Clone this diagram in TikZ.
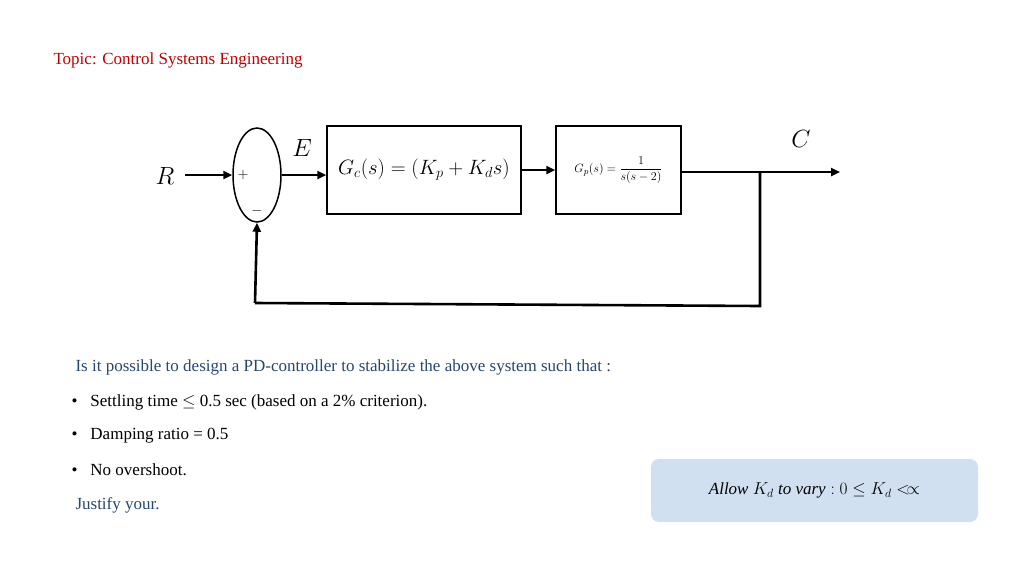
\documentclass[tikz,border=0pt]{standalone}
\usepackage{amsmath,amssymb}
\usepackage{fontspec}
\setmainfont{Liberation Serif}
\usetikzlibrary{arrows.meta,shapes.geometric}
\definecolor{topicred}{RGB}{192,0,0}
\definecolor{qblue}{RGB}{40,70,110}
\definecolor{boxblue}{RGB}{209,224,240}
\begin{document}
\begin{tikzpicture}[x=1pt,y=-1pt,
  sig/.style={line width=2.6pt,-{Triangle[length=9pt,width=8pt]}},
  wire/.style={line width=2.6pt},
  blk/.style={draw,line width=1.5pt,inner sep=0pt},
  body/.style={anchor=west,font=\fontsize{17}{20}\selectfont}]
\useasboundingbox (0,0) rectangle (1024,576);
\node[anchor=west,text=topicred,font=\fontsize{17}{20}\selectfont] (title) at (50,60) {Topic: Control Systems Engineering};
% block diagram
\node[draw,ellipse,line width=1.5pt,minimum width=48pt,minimum height=94pt,inner sep=0pt] (sum) at (257,175) {};
\node[font=\fontsize{14}{14}\selectfont] (plus) at (243,175) {$+$};
\node[font=\fontsize{14}{14}\selectfont] (minus) at (257,211) {$-$};
\node[font=\fontsize{26}{26}\selectfont] (R) at (165,176) {$R$};
\node[font=\fontsize{26}{26}\selectfont] (E) at (302,148) {$E$};
\node[font=\fontsize{26}{26}\selectfont] (C) at (801,139) {$C$};
\node[blk,minimum width=194pt,minimum height=88pt,font=\fontsize{20}{20}\selectfont] (gc) at (424,170) {$G_c(s)=(K_p+K_d s)$};
\node[blk,minimum width=125pt,minimum height=88pt,font=\fontsize{13}{13}\selectfont] (gp) at (618.5,170) {$G_p(s)=\dfrac{1}{s(s-2)}$};
\coordinate (out) at (840,172);
\coordinate (br) at (760,172);
\coordinate (rb) at (760,306);
\coordinate (lb) at (255,303);
\draw[sig] (185,175) -- (sum.west);
\draw[sig] (sum.east) -- (gc.west |- sum.east);
\draw[sig] (gc.east |- 0,170) -- (gp.west |- 0,170);
\draw[sig] (gp.east |- out) -- (out);
\draw[wire] (br) -- (rb) -- (lb);
\draw[sig] (lb) -- (sum.south);
% text
\node[body,text=qblue] (q) at (72,367) {Is it possible to design a PD-controller to stabilize the above system such that :};
\node[body] (b1) at (68,402) {•\hspace{13pt}Settling time $\leq$ 0.5 sec (based on a 2\% criterion).};
\node[body] (b2) at (68,436) {•\hspace{13pt}Damping ratio = 0.5};
\node[body] (b3) at (68,470) {•\hspace{13pt}No overshoot.};
\node[body,text=qblue] (j) at (72,505) {Justify your.};
\node[fill=boxblue,rounded corners=8pt,minimum width=327pt,minimum height=63pt,font=\fontsize{17}{20}\selectfont] (note) at (814.5,490.5) {$\mathit{Allow}\ K_d\ \mathit{to\ vary} : 0\leq K_d <\!\propto$};
\end{tikzpicture}
\end{document}
